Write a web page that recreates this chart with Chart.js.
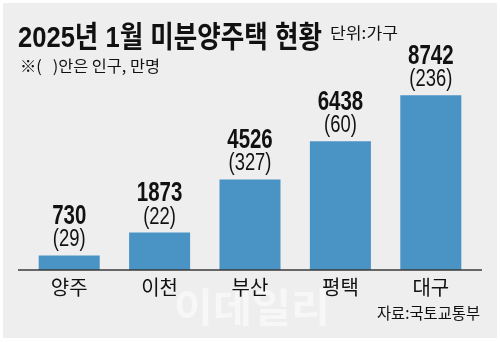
<!DOCTYPE html>
<html>
<head>
<meta charset="utf-8">
<script src="https://cdn.jsdelivr.net/npm/chart.js@4"></script>
<style>
  html, body { margin: 0; padding: 0; background: #fff; }
  #chart { display: block; }
</style>
</head>
<body>
<canvas id="chart" width="500" height="342"></canvas>
<script>
const regions = ['양주', '이천', '부산', '평택', '대구'];
const units = [730, 1873, 4526, 6438, 8742];        // 미분양 가구
const population = [29, 22, 327, 60, 236];          // 인구, 만명

const KR = "'Noto Sans CJK KR', sans-serif";
const NUM = "'Liberation Sans', 'Noto Sans CJK KR', sans-serif";

// draws text squeezed horizontally; width = target width, or a plain x-scale below 2
function squeezed(ctx, text, x, y, font, width, align) {
  ctx.save();
  ctx.font = font;
  const natural = ctx.measureText(text).width;
  const sx = width < 2 ? width : width / natural;
  const w = natural * sx;
  let left = x;
  if (align === 'center') left = x - w / 2;
  else if (align === 'right') left = x - w;
  ctx.translate(left, y);
  ctx.scale(sx, 1);
  ctx.textAlign = 'left';
  ctx.fillText(text, 0, 0);
  ctx.restore();
}

const decor = {
  id: 'decor',
  beforeDraw(chart) {
    const ctx = chart.ctx;
    ctx.save();
    ctx.fillStyle = '#ffffff';
    ctx.fillRect(0, 0, chart.width, chart.height);
    ctx.fillStyle = '#eeeeee';
    ctx.fillRect(3, 3, chart.width - 6, chart.height - 7);
    ctx.restore();
  },
  afterDraw(chart) {
    const ctx = chart.ctx;
    const x = chart.scales.x;
    const base = chart.scales.y.getPixelForValue(0);
    ctx.save();
    ctx.textBaseline = 'alphabetic';

    // watermark
    ctx.fillStyle = 'rgba(255,255,255,0.5)';
    squeezed(ctx, '이데일리', 252, 322, 'bold 40px ' + KR, 156, 'center');

    // baseline
    ctx.strokeStyle = '#3a3a3a';
    ctx.lineWidth = 1.5;
    ctx.beginPath();
    ctx.moveTo(18, base);
    ctx.lineTo(482, base);
    ctx.stroke();

    // header
    ctx.fillStyle = '#111111';
    squeezed(ctx, '2025년 1월 미분양주택 현황', 18, 47, 'bold 30px ' + NUM, 304, 'left');
    squeezed(ctx, '단위:가구', 330, 39, '16px ' + KR, 68, 'left');
    squeezed(ctx, '※(   )안은 인구, 만명', 20, 72, '16px ' + KR, 140, 'left');

    // category labels
    regions.forEach((name, i) => {
      const cx = x.getPixelForValue(i);
      squeezed(ctx, name, cx, 295, '20px ' + KR, 1, 'center');
    });

    // value labels above bars
    const meta = chart.getDatasetMeta(0);
    meta.data.forEach((bar, i) => {
      squeezed(ctx, String(units[i]), bar.x, bar.y - 31.5, 'bold 28px ' + NUM, 0.73, 'center');
      squeezed(ctx, '(' + population[i] + ')', bar.x, bar.y - 9, '23px ' + NUM, 0.8, 'center');
    });

    // source
    squeezed(ctx, '자료:국토교통부', 480, 319, '16px ' + KR, 103, 'right');
    ctx.restore();
  }
};

new Chart(document.getElementById('chart'), {
  type: 'bar',
  data: {
    labels: regions,
    datasets: [{
      data: units,
      backgroundColor: '#4a93c5',
      borderWidth: 0,
      barPercentage: 0.675,
      categoryPercentage: 1
    }]
  },
  options: {
    responsive: false,
    animation: false,
    devicePixelRatio: 1,
    layout: { padding: { top: 70, bottom: 72, left: 24, right: 24 } },
    plugins: {
      legend: { display: false },
      tooltip: { enabled: false }
    },
    scales: {
      x: { display: false },
      y: { display: false, min: 0, max: 10000 }
    }
  },
  plugins: [decor]
});
</script>
</body>
</html>
